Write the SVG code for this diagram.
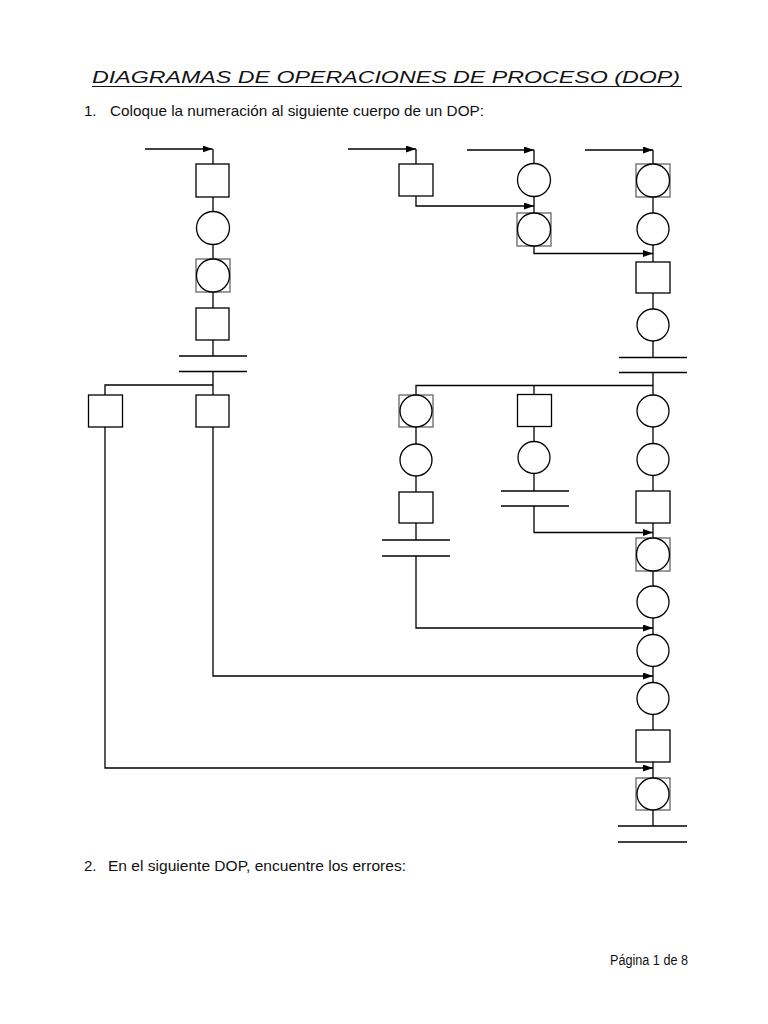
<svg xmlns="http://www.w3.org/2000/svg" width="768" height="1024" viewBox="0 0 768 1024">
<style>
.t{font-family:"Liberation Sans",Arial,sans-serif;fill:#111}
.op{fill:#fff;stroke:#000;stroke-width:1.3}
.sq{fill:#fff;stroke:#000;stroke-width:1.3}
.cs{fill:#fff;stroke:#666;stroke-width:1.3}
.c{fill:none;stroke:#000;stroke-width:1.3}
.bar{stroke:#000;stroke-width:1.5}
</style>
<defs>
<marker id="ah" viewBox="0 0 10 7" refX="10" refY="3.5" markerWidth="10" markerHeight="7" markerUnits="userSpaceOnUse" orient="auto">
<path d="M0,0 L10,3.5 L0,7 z" fill="#000"/>
</marker>
</defs>
<rect width="768" height="1024" fill="#fff"/>
<g id="header">
<text class="t" x="92" y="83" font-size="16" font-style="italic" textLength="588" lengthAdjust="spacingAndGlyphs">DIAGRAMAS DE OPERACIONES DE PROCESO (DOP)</text>
<line x1="92" y1="86.5" x2="682" y2="86.5" stroke="#111" stroke-width="1.2"/>
<text class="t" x="84" y="116" font-size="15">1.</text>
<text class="t" x="110" y="116" font-size="15" textLength="374" lengthAdjust="spacingAndGlyphs">Coloque la numeración al siguiente cuerpo de un DOP:</text>
<text class="t" x="84" y="871" font-size="15">2.</text>
<text class="t" x="108" y="871" font-size="15" textLength="298" lengthAdjust="spacingAndGlyphs">En el siguiente DOP, encuentre los errores:</text>
<text class="t" x="610" y="965" font-size="14" textLength="78" lengthAdjust="spacingAndGlyphs">Página 1 de 8</text>
</g>
<g id="connectors">
<!-- left column -->
<path class="c" d="M145,149 H212.5" marker-end="url(#ah)"/>
<path class="c" d="M213,149 V164"/>
<path class="c" d="M213,197 V211.5"/>
<path class="c" d="M213,244.5 V259"/>
<path class="c" d="M213,292 V308"/>
<path class="c" d="M213,340 V356"/>
<path class="c" d="M213,371.5 V395"/>
<path class="c" d="M105,395 V385 H213"/>
<path class="c" d="M105,427 V768 H653" marker-end="url(#ah)"/>
<path class="c" d="M213,427 V676 H653" marker-end="url(#ah)"/>
<!-- middle top -->
<path class="c" d="M348,149 H416" marker-end="url(#ah)"/>
<path class="c" d="M416,149 V164"/>
<path class="c" d="M416,196 V206 H534" marker-end="url(#ah)"/>
<path class="c" d="M467,150 H534" marker-end="url(#ah)"/>
<path class="c" d="M534,150 V163.5"/>
<path class="c" d="M534,196.5 V213"/>
<path class="c" d="M534,246 V253.5 H653" marker-end="url(#ah)"/>
<!-- right column -->
<path class="c" d="M585,150 H653" marker-end="url(#ah)"/>
<path class="c" d="M653,150 V164"/>
<path class="c" d="M653,197 V213"/>
<path class="c" d="M653,245 V262"/>
<path class="c" d="M653,293 V309"/>
<path class="c" d="M653,341 V357.5"/>
<path class="c" d="M653,372.5 V395"/>
<path class="c" d="M416,395 V385.5 H653"/>
<path class="c" d="M534,385.5 V394.5"/>
<path class="c" d="M653,427 V443.5"/>
<path class="c" d="M653,475.5 V491"/>
<path class="c" d="M653,523 V538"/>
<path class="c" d="M653,571 V586"/>
<path class="c" d="M653,618 V634.5"/>
<path class="c" d="M653,666.5 V682.5"/>
<path class="c" d="M653,714.5 V730"/>
<path class="c" d="M653,762 V778"/>
<path class="c" d="M653,810 V826"/>
<!-- middle branch -->
<path class="c" d="M534,426.5 V441.5"/>
<path class="c" d="M534,473.5 V491"/>
<path class="c" d="M534,506 V532.5 H653" marker-end="url(#ah)"/>
<!-- left branch -->
<path class="c" d="M416,427 V444"/>
<path class="c" d="M416,476 V492"/>
<path class="c" d="M416,523 V540"/>
<path class="c" d="M416,556 V628 H653" marker-end="url(#ah)"/>
</g>
<!-- left column nodes -->
<g id="L1"><rect class="sq" x="196" y="164" width="33" height="33"/></g>
<g id="L2"><circle class="op" cx="213" cy="228" r="16.5"/></g>
<g id="L3"><rect class="cs" x="196" y="259" width="34" height="33"/><circle class="op" cx="213" cy="275.5" r="16.5"/></g>
<g id="L4"><rect class="sq" x="196" y="308" width="33" height="32"/></g>
<g id="L5"><line class="bar" x1="179" y1="356" x2="247" y2="356"/><line class="bar" x1="179" y1="371.5" x2="247" y2="371.5"/></g>
<g id="L6"><rect class="sq" x="88.5" y="395" width="34" height="32"/></g>
<g id="L7"><rect class="sq" x="196" y="395" width="33" height="32"/></g>
<!-- middle top nodes -->
<g id="M1"><rect class="sq" x="399" y="164" width="34" height="32"/></g>
<g id="M2"><circle class="op" cx="534" cy="180" r="16.5"/></g>
<g id="M3"><rect class="cs" x="517" y="213" width="34" height="33"/><circle class="op" cx="534" cy="229.5" r="16.5"/></g>
<!-- right column nodes -->
<g id="R1"><rect class="cs" x="636" y="164" width="34" height="33"/><circle class="op" cx="653" cy="180.5" r="16.5"/></g>
<g id="R2"><circle class="op" cx="653" cy="229" r="16"/></g>
<g id="R3"><rect class="sq" x="636" y="262" width="34" height="31"/></g>
<g id="R4"><circle class="op" cx="653" cy="325" r="16"/></g>
<g id="R5"><line class="bar" x1="619" y1="357.5" x2="687" y2="357.5"/><line class="bar" x1="619" y1="372.5" x2="687" y2="372.5"/></g>
<g id="R6"><circle class="op" cx="653" cy="411" r="16"/></g>
<g id="R7"><circle class="op" cx="653" cy="459.5" r="16"/></g>
<g id="R8"><rect class="sq" x="636" y="491" width="34" height="32"/></g>
<g id="R9"><rect class="cs" x="636" y="538" width="34" height="33"/><circle class="op" cx="653" cy="554.5" r="16.5"/></g>
<g id="R10"><circle class="op" cx="653" cy="602" r="16"/></g>
<g id="R11"><circle class="op" cx="653" cy="650.5" r="16"/></g>
<g id="R12"><circle class="op" cx="653" cy="698.5" r="16"/></g>
<g id="R13"><rect class="sq" x="636" y="730" width="34" height="32"/></g>
<g id="R14"><rect class="cs" x="636" y="778" width="34" height="32"/><circle class="op" cx="653" cy="794" r="16"/></g>
<g id="R15"><line class="bar" x1="618" y1="826" x2="687" y2="826"/><line class="bar" x1="618" y1="842" x2="687" y2="842"/></g>
<!-- middle branch nodes -->
<g id="B1"><rect class="sq" x="517.5" y="394.5" width="34" height="32"/></g>
<g id="B2"><circle class="op" cx="534" cy="457.5" r="16"/></g>
<g id="B3"><line class="bar" x1="501" y1="491" x2="569" y2="491"/><line class="bar" x1="501" y1="506" x2="569" y2="506"/></g>
<!-- left branch nodes -->
<g id="A1"><rect class="cs" x="399" y="395" width="34" height="32"/><circle class="op" cx="416" cy="411" r="16"/></g>
<g id="A2"><circle class="op" cx="416" cy="460" r="16"/></g>
<g id="A3"><rect class="sq" x="399" y="492" width="34" height="31"/></g>
<g id="A4"><line class="bar" x1="382" y1="540" x2="450" y2="540"/><line class="bar" x1="382" y1="556" x2="450" y2="556"/></g>
</svg>
